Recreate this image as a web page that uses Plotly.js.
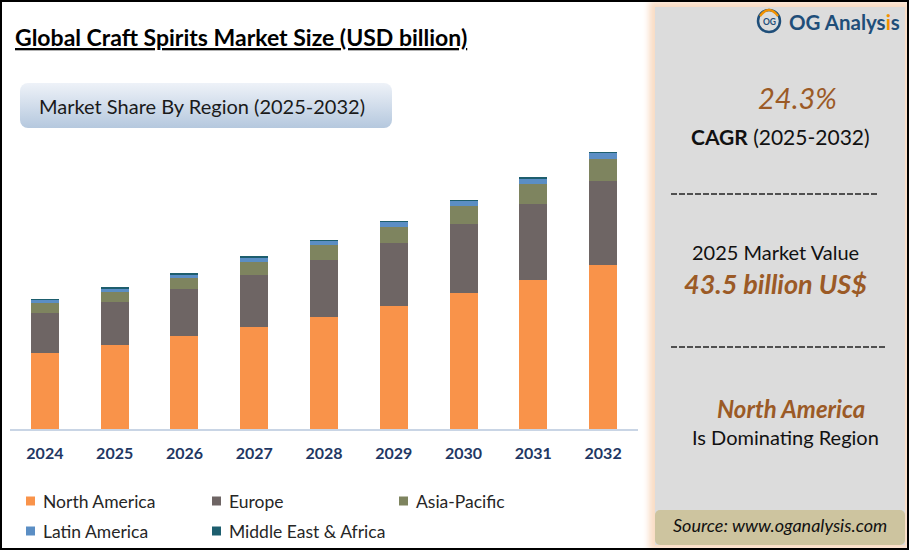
<!DOCTYPE html>
<html>
<head>
<meta charset="utf-8">
<script src="https://cdn.plot.ly/plotly-3.0.1.min.js"></script>
<style>html,body{margin:0;padding:0;background:#fff;}#chart{width:909px;height:550px;}</style>
</head>
<body>
<div id="chart"></div>
<script>
// ---- data (USD billion) ----
const years = ['2024','2025','2026','2027','2028','2029','2030','2031','2032'];
const northAmerica = [23.3, 25.8, 28.5, 31.2, 34.3, 37.7, 41.7, 45.6, 50.2];
const europe       = [12.3, 13.2, 14.4, 15.9, 17.5, 19.2, 21.1, 23.3, 25.7];
const asiaPacific  = [3.1, 3.1, 3.3, 4.0, 4.4, 5.1, 5.6, 6.1, 6.7];
const latinAmerica = [0.8, 0.9, 1.0, 1.4, 1.4, 1.3, 1.4, 1.6, 1.9];
const middleEastAfrica = [0.3, 0.5, 0.5, 0.4, 0.4, 0.4, 0.4, 0.5, 0.3];
const seriesNames  = ['North America','Europe','Asia-Pacific','Latin America','Middle East & Africa'];
const seriesColors = ['#F9934A','#6E6564','#7E845F','#5B8EC4','#1D5E6E'];
const seriesValues = [northAmerica, europe, asiaPacific, latinAmerica, middleEastAfrica];

// ---- helpers: pixel -> paper ----
const W = 909, H = 550;
const X = px => px / W;
const Y = py => 1 - py / H;

const traces = seriesNames.map((n, i) => ({
  type: 'bar', name: n, x: years, y: seriesValues[i],
  marker: {color: seriesColors[i], line: {width: 0}},
  showlegend: false, hoverinfo: 'x+y+name'
}));

// background artwork (panels, gradient box, frame)
const svg = "<svg xmlns='http://www.w3.org/2000/svg' width='909' height='550'>" +
  "<defs><linearGradient id='g' x1='0' y1='0' x2='0' y2='1'><stop offset='0' stop-color='#eef2f8'/><stop offset='1' stop-color='#b5c8de'/></linearGradient>" +
  "<filter id='b' x='-10%' y='-10%' width='120%' height='120%'><feGaussianBlur stdDeviation='3'/></filter></defs>" +
  "<rect x='649' y='1' width='262' height='549' fill='#f9dcc4' filter='url(#b)'/>" +
  "<rect x='655' y='7' width='250' height='538' fill='#dcdcdc'/>" +
  "<rect x='655' y='510' width='250' height='35' rx='5' fill='#cdc49f'/>" +
  "<rect x='20' y='83' width='372' height='45' rx='8' fill='url(#g)'/>" +
  "<rect x='1' y='1' width='907' height='548' fill='none' stroke='#000' stroke-width='2'/>" +
  "</svg>";

const annotations = [];
const shapes = [];
function txt(text, x, y, size, opts) {
  annotations.push(Object.assign({
    text: text, xref: 'paper', yref: 'paper', x: X(x), y: Y(y),
    xanchor: 'center', yanchor: 'middle', showarrow: false,
    font: {family: 'Lato', size: size, color: '#000'}
  }, opts || {}));
}

// title and subtitle
txt('<b><u>Global Craft Spirits Market Size (USD billion)</u></b>', 13, 37, 23, {xanchor: 'left', font: {family: 'Lato', size: 23, color: '#000'}});
txt('Market Share By Region (2025-2032)', 37, 106, 20, {xanchor: 'left', font: {family: 'Lato', size: 20, color: '#1a1a1a'}});

// legend (built from series names / colours)
const legX = [26, 212, 399, 26, 212];
const legY = [501, 501, 501, 531, 531];
seriesNames.forEach((n, i) => {
  shapes.push({type: 'rect', xref: 'paper', yref: 'paper',
    x0: X(legX[i]), x1: X(legX[i] + 9), y0: Y(legY[i] - 4.5), y1: Y(legY[i] + 4.5),
    fillcolor: seriesColors[i], line: {width: 0}});
  txt(n, legX[i] + 15, legY[i], 17.5, {xanchor: 'left', font: {family: 'Lato', size: 17.5, color: '#262626'}});
});

// right panel
shapes.push({type: 'circle', xref: 'paper', yref: 'paper', x0: X(758), x1: X(780), y0: Y(10), y1: Y(32), line: {color: '#1F4E79', width: 2.5}});
shapes.push({type: 'path', xref: 'paper', yref: 'paper',
  path: 'M ' + X(760) + ',' + Y(16) + ' Q ' + X(769) + ',' + Y(4) + ' ' + X(778) + ',' + Y(16),
  line: {color: '#F39200', width: 2.5}});
txt('<b>OG</b>', 769, 22, 8.5, {font: {family: 'Lato', size: 8.5, color: '#1F4E79'}});
txt('<b>OG Analys<span style="color:#F39200">i</span>s</b>', 787, 22, 20.5, {xanchor: 'left', font: {family: 'Lato', size: 20.5, color: '#1F4E79'}});
txt('<i>24.3%</i>', 797, 97, 29, {font: {family: 'Lato', size: 29, color: '#9B5A26'}});
txt('<b>CAGR</b> (2025-2032)', 780, 137, 21, {font: {family: 'Lato', size: 21, color: '#111'}});
shapes.push({type: 'line', xref: 'paper', yref: 'paper', x0: X(671), x1: X(879), y0: Y(194), y1: Y(194), line: {color: '#222', width: 1.5, dash: '6px,2px'}});
txt('2025 Market Value', 775, 252, 20, {font: {family: 'Lato', size: 20, color: '#111'}});
txt('<b><i>43.5 billion US$</i></b>', 775, 283, 27, {font: {family: 'Lato', size: 27, color: '#9B5A26'}});
shapes.push({type: 'line', xref: 'paper', yref: 'paper', x0: X(671), x1: X(887), y0: Y(347), y1: Y(347), line: {color: '#222', width: 1.5, dash: '6px,2px'}});
txt('<b><i>North America</i></b>', 791, 408, 24, {font: {family: 'Lato', size: 24, color: '#9B5A26'}});
txt('Is Dominating Region', 785, 437, 20, {font: {family: 'Lato', size: 20, color: '#111'}});
txt('<i>Source: www.oganalysis.com</i>', 780, 525, 18, {font: {family: 'Lato', size: 18, color: '#111'}});

const layout = {
  width: W, height: H,
  margin: {l: 0, r: 0, t: 0, b: 0},
  paper_bgcolor: '#ffffff', plot_bgcolor: 'rgba(0,0,0,0)',
  barmode: 'stack', bargap: 0.6,
  xaxis: {
    domain: [X(10), X(638)], type: 'category',
    showgrid: false, zeroline: false,
    showline: true, linecolor: '#c9d5e5', linewidth: 1.5,
    ticks: '', ticklabelstandoff: 9,
    tickfont: {family: 'Lato', size: 16, color: '#1F3864', weight: 'bold'}
  },
  yaxis: {
    domain: [1 - 429 / H, 1 - 140 / H], range: [0, 88.5],
    visible: false, showgrid: false, zeroline: false
  },
  images: [{
    source: 'data:image/svg+xml;charset=utf-8,' + encodeURIComponent(svg),
    xref: 'paper', yref: 'paper', x: 0, y: 1, sizex: 1, sizey: 1,
    xanchor: 'left', yanchor: 'top', sizing: 'stretch', layer: 'below'
  }],
  annotations: annotations,
  shapes: shapes,
  showlegend: false
};

Plotly.newPlot('chart', traces, layout, {displayModeBar: false, staticPlot: true});
</script>
</body>
</html>
